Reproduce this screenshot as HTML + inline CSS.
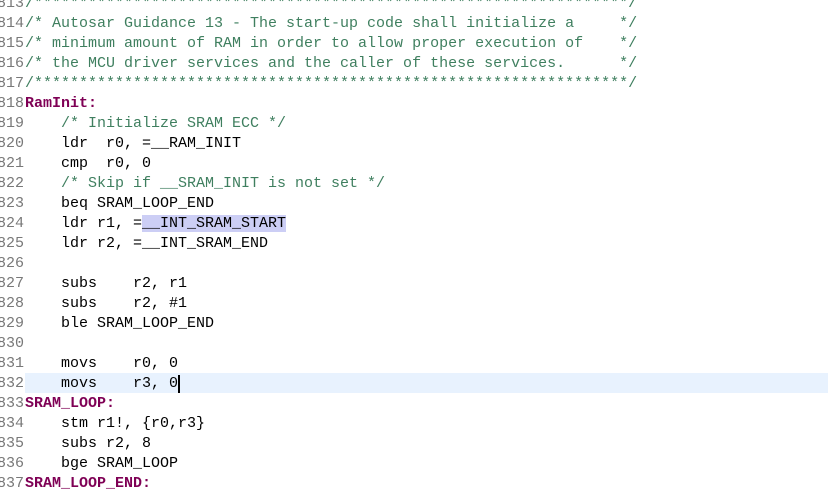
<!DOCTYPE html>
<html><head><meta charset="utf-8"><style>
body{margin:0;width:828px;height:495px;overflow:hidden;background:#fff;position:relative;font-family:"Liberation Mono",monospace;font-size:15px}
.l{position:absolute;left:0;height:20px;line-height:20px;width:828px;white-space:pre}
.n{position:absolute;right:804px;color:#787878;top:2px}
.c{position:absolute;left:25px;top:2px;color:#000}
.cm{color:#3f7f5f}
.lb{color:#7f0055;font-weight:bold}
.hl{position:absolute;left:25px;top:1px;width:803px;height:20px;background:#e8f2fe}
.sel{background:#cccef5}
.cur{position:absolute;left:178px;top:3px;width:2px;height:18px;background:#000}
</style></head><body>
<div class="l" style="top:-8px"><span class="n">813</span><span class="c cm">/******************************************************************/</span></div>
<div class="l" style="top:12px"><span class="n">814</span><span class="c cm">/* Autosar Guidance 13 - The start-up code shall initialize a     */</span></div>
<div class="l" style="top:32px"><span class="n">815</span><span class="c cm">/* minimum amount of RAM in order to allow proper execution of    */</span></div>
<div class="l" style="top:52px"><span class="n">816</span><span class="c cm">/* the MCU driver services and the caller of these services.      */</span></div>
<div class="l" style="top:72px"><span class="n">817</span><span class="c cm">/******************************************************************/</span></div>
<div class="l" style="top:92px"><span class="n">818</span><span class="c lb">RamInit:</span></div>
<div class="l" style="top:112px"><span class="n">819</span><span class="c cm">    /* Initialize SRAM ECC */</span></div>
<div class="l" style="top:132px"><span class="n">820</span><span class="c">    ldr  r0, =__RAM_INIT</span></div>
<div class="l" style="top:152px"><span class="n">821</span><span class="c">    cmp  r0, 0</span></div>
<div class="l" style="top:172px"><span class="n">822</span><span class="c cm">    /* Skip if __SRAM_INIT is not set */</span></div>
<div class="l" style="top:192px"><span class="n">823</span><span class="c">    beq SRAM_LOOP_END</span></div>
<div class="l" style="top:212px"><span class="n">824</span><span class="c">    ldr r1, =<span class="sel">__INT_SRAM_START</span></span></div>
<div class="l" style="top:232px"><span class="n">825</span><span class="c">    ldr r2, =__INT_SRAM_END</span></div>
<div class="l" style="top:252px"><span class="n">826</span></div>
<div class="l" style="top:272px"><span class="n">827</span><span class="c">    subs    r2, r1</span></div>
<div class="l" style="top:292px"><span class="n">828</span><span class="c">    subs    r2, #1</span></div>
<div class="l" style="top:312px"><span class="n">829</span><span class="c">    ble SRAM_LOOP_END</span></div>
<div class="l" style="top:332px"><span class="n">830</span></div>
<div class="l" style="top:352px"><span class="n">831</span><span class="c">    movs    r0, 0</span></div>
<div class="l" style="top:372px"><div class="hl"></div><span class="n">832</span><span class="c">    movs    r3, 0</span><div class="cur"></div></div>
<div class="l" style="top:392px"><span class="n">833</span><span class="c lb">SRAM_LOOP:</span></div>
<div class="l" style="top:412px"><span class="n">834</span><span class="c">    stm r1!, {r0,r3}</span></div>
<div class="l" style="top:432px"><span class="n">835</span><span class="c">    subs r2, 8</span></div>
<div class="l" style="top:452px"><span class="n">836</span><span class="c">    bge SRAM_LOOP</span></div>
<div class="l" style="top:472px"><span class="n">837</span><span class="c lb">SRAM_LOOP_END:</span></div>
</body></html>
